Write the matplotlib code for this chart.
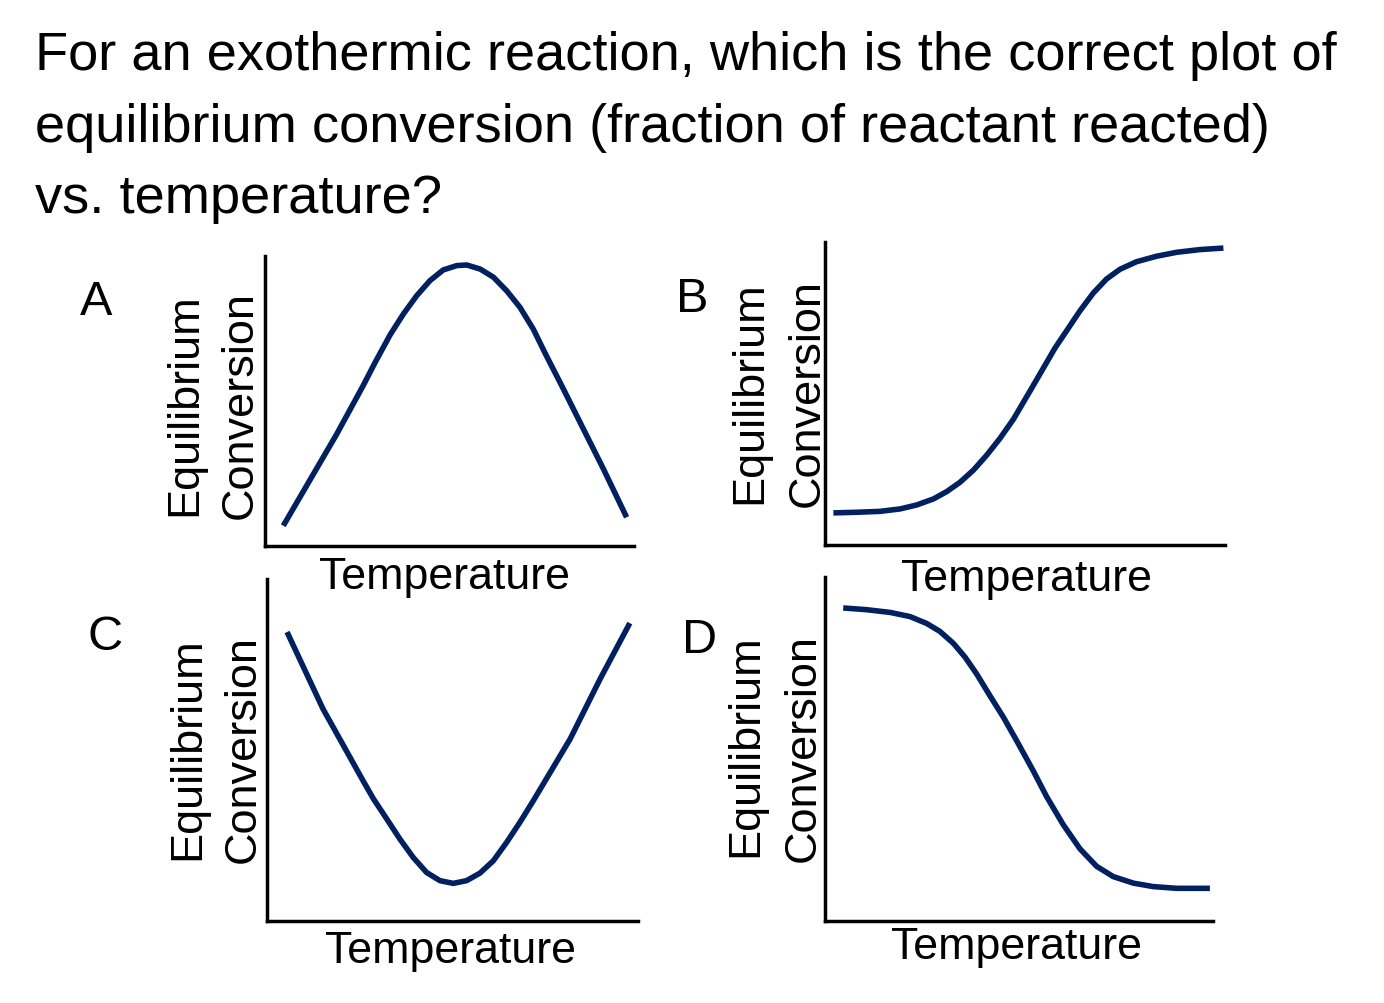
import matplotlib
matplotlib.use("Agg")
import matplotlib.pyplot as plt

plt.rcParams['font.family'] = ['Liberation Sans', 'DejaVu Sans']

W, H = 1384, 1004

title_lines = ["For an exothermic reaction, which is the correct plot of",
               "equilibrium conversion (fraction of reactant reacted)",
               "vs. temperature?"]
panel_letters = ["A", "B", "C", "D"]
xlabel = "Temperature"
ylabel_lines = ["Equilibrium", "Conversion"]

# Temperature (0-100, arbitrary) vs equilibrium conversion (0-1, arbitrary)
temp_A = [4.96, 12.2, 19.4, 26.6, 29.8, 33.9, 37.5, 41.1, 44.7, 48.3, 52.0, 54.7,
          58.3, 61.9, 65.5, 69.1, 72.7, 76.3, 80.8, 86.3, 91.7, 98.0]
conv_A = [0.070, 0.228, 0.385, 0.553, 0.632, 0.728, 0.800, 0.863, 0.915, 0.952,
          0.967, 0.969, 0.955, 0.927, 0.880, 0.823, 0.748, 0.655, 0.543, 0.403,
          0.266, 0.099]

temp_B = [2.1, 7.9, 13.75, 18.75, 22.9, 27.1, 30.4, 33.75, 37.1, 40.4, 43.75, 47.1,
          52.0, 57.5, 60.4, 63.75, 67.1, 70.4, 73.75, 77.9, 82.9, 87.9, 93.75, 99.6]
conv_B = [0.106, 0.108, 0.111, 0.119, 0.132, 0.152, 0.176, 0.207, 0.247, 0.296,
          0.352, 0.415, 0.525, 0.650, 0.707, 0.773, 0.832, 0.878, 0.910, 0.935,
          0.953, 0.966, 0.975, 0.980]

temp_C = [5.4, 15.1, 25.9, 28.7, 32.3, 35.8, 39.4, 43.0, 46.6, 50.2, 53.8, 57.4,
          61.0, 64.6, 68.2, 71.8, 81.7, 89.8, 97.8]
conv_C = [0.845, 0.620, 0.410, 0.357, 0.298, 0.240, 0.186, 0.142, 0.118, 0.110,
          0.118, 0.140, 0.176, 0.230, 0.289, 0.352, 0.532, 0.708, 0.871]

temp_D = [4.7, 10.7, 16.8, 21.9, 26.2, 29.6, 33.1, 36.1, 39.1, 42.5, 46.0, 49.4,
          53.7, 57.1, 61.4, 65.7, 70.0, 74.3, 79.5, 84.6, 90.6, 99.2]
conv_D = [0.910, 0.905, 0.897, 0.885, 0.865, 0.842, 0.807, 0.767, 0.718, 0.655,
          0.592, 0.524, 0.436, 0.362, 0.280, 0.210, 0.159, 0.129, 0.110, 0.100,
          0.095, 0.095]

curves = [(temp_A, conv_A), (temp_B, conv_B), (temp_C, conv_C), (temp_D, conv_D)]

# layout in pixels: (left, top, right, bottom)
axes_px = [(265, 257, 634, 547), (825, 243, 1225, 546),
           (267, 580, 638, 922), (825, 578, 1213, 922)]
letter_px = [(96, 315), (692, 312), (105, 650), (700, 653)]
ylab1_px = [(185, 405), (750, 393), (188, 749), (746, 746)]
ylab2_px = [(240, 405), (807, 393), (243, 749), (803, 748)]
xlab_px = [(445, 578), (1026, 580), (450, 952), (1017, 947)]

LINE_COLOR = "#002060"

fig = plt.figure(figsize=(W / 100, H / 100), dpi=100)

def fx(x):
    return x / W

def fy(y):
    return 1 - y / H

title_baselines = [70, 142, 213]
for line, yb in zip(title_lines, title_baselines):
    fig.text(fx(35), fy(yb), line, fontsize=39.1, ha='left', va='baseline', color='black')

for i in range(4):
    l, t, r, b = axes_px[i]
    ax = fig.add_axes([fx(l), fy(b), (r - l) / W, (b - t) / H])
    ax.set_xlim(0, 100)
    ax.set_ylim(0, 1)
    for s in ['top', 'right']:
        ax.spines[s].set_visible(False)
    for s in ['left', 'bottom']:
        ax.spines[s].set_linewidth(2.5)
        ax.spines[s].set_color('black')
        ax.spines[s].set_capstyle('projecting')
    ax.set_xticks([])
    ax.set_yticks([])
    ax.patch.set_alpha(0)
    tx, cy = curves[i]
    ax.plot(tx, cy, color=LINE_COLOR, lw=4.0, solid_capstyle='butt',
            solid_joinstyle='round', clip_on=False, antialiased=True)

    fig.text(fx(letter_px[i][0]), fy(letter_px[i][1]), panel_letters[i],
             fontsize=35, ha='center', va='baseline')
    fig.text(fx(ylab1_px[i][0]), fy(ylab1_px[i][1]), ylabel_lines[0],
             fontsize=32.5, ha='center', va='center', rotation=90, rotation_mode='anchor')
    fig.text(fx(ylab2_px[i][0]), fy(ylab2_px[i][1]), ylabel_lines[1],
             fontsize=32.5, ha='center', va='center', rotation=90, rotation_mode='anchor')
    fig.text(fx(xlab_px[i][0]), fy(xlab_px[i][1]), xlabel,
             fontsize=32.2, ha='center', va='center')

fig.savefig("out.png", dpi=100, facecolor='white')
